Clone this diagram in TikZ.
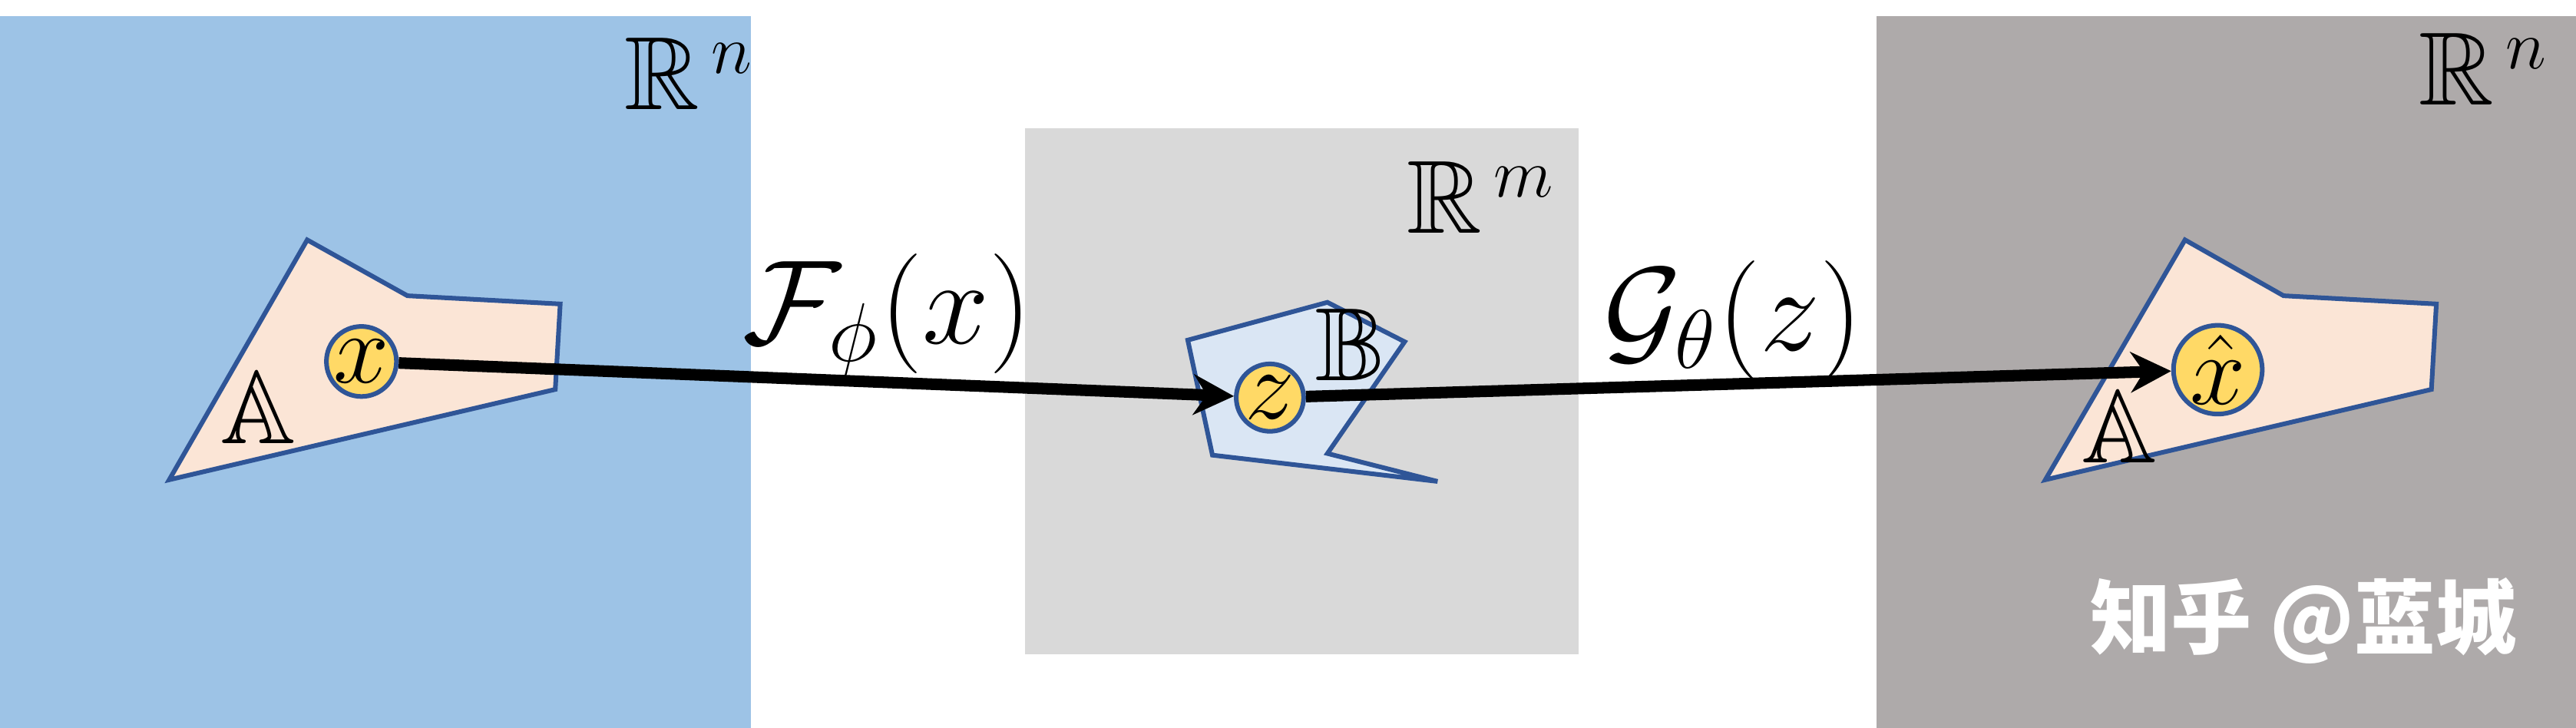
\documentclass[tikz,border=0pt]{standalone}
\usepackage{amsmath,amssymb}
\usepackage{fontspec}
\newfontfamily\cjk{Noto Sans CJK SC}
\usetikzlibrary{arrows.meta}
\definecolor{lblue}{HTML}{9DC3E6}
\definecolor{mgray}{HTML}{D9D9D9}
\definecolor{dgray}{HTML}{AEAAAA}
\definecolor{peach}{HTML}{FBE5D6}
\definecolor{bfill}{HTML}{DAE6F4}
\definecolor{edge}{HTML}{2F5597}
\definecolor{gold}{HTML}{FFD966}
\tikzset{
 poly/.style={draw=edge,line width=0.8pt},
 pt/.style={circle,draw=edge,fill=gold,line width=0.8pt,minimum size=0.41cm,inner sep=0pt,font=\fontsize{17}{18}\selectfont},
 arr/.style={line width=2pt,-{Stealth[length=7pt,width=7pt]}},
 lab/.style={font=\fontsize{18}{20}\selectfont},
 big/.style={font=\fontsize{21}{24}\selectfont}
}
\begin{document}
\begin{tikzpicture}[x=0.01cm,y=-0.01cm]
\useasboundingbox (0,0) rectangle (1568,443);
\fill[lblue] (0,10) rectangle (457,443);
\fill[mgray] (624,78) rectangle (961,398);
\fill[dgray] (1142,10) rectangle (1568,443);
\draw[poly,fill=peach] (103,292)--(187,146)--(248,180)--(341,185)--(338,237)--cycle;
\draw[poly,fill=peach] (1245,292)--(1330,146)--(1390,180)--(1483,185)--(1480,237)--cycle;
\draw[poly,fill=bfill] (723,207)--(808,184)--(855,208)--(808,276)--(875,293)--(738,277)--cycle;
\node[lab] (rn1) at (420,45) {$\mathbb{R}^{\,n}$};
\node[lab] (rm) at (902,120) {$\mathbb{R}^{\,m}$};
\node[lab] (rn2) at (1512,42) {$\mathbb{R}^{\,n}$};
\node[lab] (a1) at (157,248) {$\mathbb{A}$};
\node[lab] (a2) at (1290,260) {$\mathbb{A}$};
\node[lab] (b) at (822,210) {$\mathbb{B}$};
\node[pt] (x) at (220,220) {$x$};
\node[pt] (z) at (773,242) {$z$};
\node[pt] (xh) at (1350,225) {$\hat{x}$};
\draw[arr] (x) -- (z);
\draw[arr] (z) -- (xh);
\node[big] (f) at (540,192) {$\mathcal{F}_{\phi}(x)$};
\node[big] (g) at (1055,195) {$\mathcal{G}_{\theta}(z)$};
\node[text=white,font=\cjk\bfseries\fontsize{14}{16}\selectfont] (w) at (1402,378) {知乎 @蓝城};
\end{tikzpicture}
\end{document}
